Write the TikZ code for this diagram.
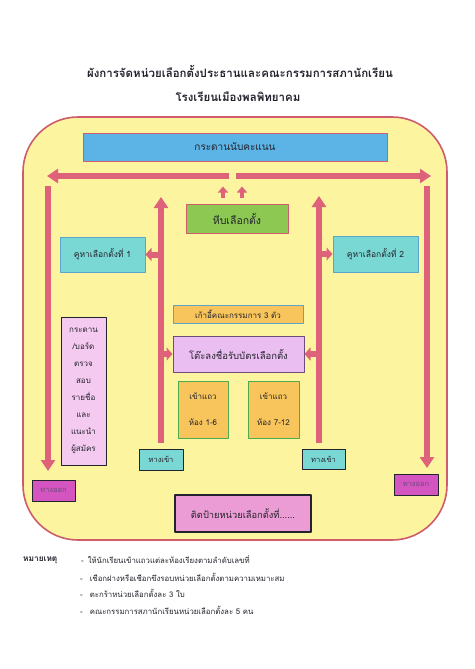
\documentclass[tikz,border=0pt]{standalone}
\usepackage{fontspec}
\newfontfamily\thai[Script=Thai]{Loma}
\usetikzlibrary{arrows.meta}
\definecolor{paper}{RGB}{253,244,160}
\definecolor{rim}{RGB}{205,92,108}
\definecolor{route}{RGB}{222,98,122}
\definecolor{skyblue}{RGB}{92,180,230}
\definecolor{ballotgreen}{RGB}{140,200,82}
\definecolor{booth}{RGB}{122,216,212}
\definecolor{boothrim}{RGB}{90,165,205}
\definecolor{chair}{RGB}{248,196,92}
\definecolor{lavender}{RGB}{234,190,240}
\definecolor{tablerim}{RGB}{110,75,125}
\definecolor{palepink}{RGB}{245,202,240}
\definecolor{magenta}{RGB}{212,84,192}
\definecolor{signpink}{RGB}{236,156,212}
\definecolor{queuerim}{RGB}{80,170,80}
\definecolor{ink}{RGB}{35,35,45}
\begin{document}
\begin{tikzpicture}[x=1pt,y=-1pt,line join=round,
  box/.style={draw,line width=1pt,inner sep=0pt,text=ink,align=center,
    font=\thai\fontsize{8.5}{10}\selectfont},
  way/.style={draw=route,line width=6pt,-{Triangle[width=14pt,length=11pt]}},
  nub/.style={draw=route,line width=4pt,-{Triangle[width=10pt,length=6pt]}},
  stub/.style={draw=route,line width=6pt,-{Triangle[width=13pt,length=6pt]}}]
\useasboundingbox (0,0) rectangle (474,669);
\fill[white] (0,0) rectangle (474,669);
% heading
\node[font=\thai\bfseries\fontsize{11.5}{14}\selectfont,text=ink] (head1) at (240,71) {ผังการจัดหน่วยเลือกตั้งประธานและคณะกรรมการสภานักเรียน};
\node[font=\thai\bfseries\fontsize{11.5}{14}\selectfont,text=ink] (head2) at (238,97) {โรงเรียนเมืองพลพิทยาคม};
% room
\draw[rim,fill=paper,line width=1.6pt,rounded corners=55pt] (23,117) rectangle (447,540);
% boxes
\node[box,draw=rim,fill=skyblue,minimum width=304pt,minimum height=28pt,
  font=\thai\fontsize{10}{12}\selectfont] (count) at (235,147) {กระดานนับคะแนน};
\node[box,draw=rim,fill=ballotgreen,minimum width=102pt,minimum height=29pt,
  font=\thai\fontsize{10.5}{12}\selectfont] (ballot) at (237,218.5) {หีบเลือกตั้ง};
\node[box,draw=boothrim,fill=booth,minimum width=85pt,minimum height=35pt] (booth1) at (102.5,254.5) {คูหาเลือกตั้งที่ 1};
\node[box,draw=boothrim,fill=booth,minimum width=85pt,minimum height=36pt] (booth2) at (375.5,254) {คูหาเลือกตั้งที่ 2};
\node[box,draw=ink,fill=palepink,minimum width=45pt,minimum height=148pt,
  font=\thai\fontsize{8}{17}\selectfont] (board) at (83.5,391)
  {กระดาน\\/บอร์ด\\ตรวจ\\สอบ\\รายชื่อ\\และ\\แนะนำ\\ผู้สมัคร};
\node[box,draw=boothrim,fill=chair,minimum width=130pt,minimum height=18pt,
  font=\thai\fontsize{8}{10}\selectfont] (chairs) at (238,314) {เก้าอี้คณะกรรมการ 3 ตัว};
\node[box,draw=tablerim,fill=lavender,minimum width=131pt,minimum height=36pt,
  font=\thai\fontsize{9.5}{11}\selectfont] (table) at (238.5,354) {โต๊ะลงชื่อรับบัตรเลือกตั้ง};
\node[box,draw=queuerim,fill=chair,minimum width=50pt,minimum height=57pt,
  font=\thai\fontsize{8}{26}\selectfont] (queue1) at (203,409.5) {เข้าแถว\\ห้อง 1-6};
\node[box,draw=queuerim,fill=chair,minimum width=51pt,minimum height=57pt,
  font=\thai\fontsize{8}{26}\selectfont] (queue2) at (273.5,409.5) {เข้าแถว\\ห้อง 7-12};
\node[box,draw=ink,fill=booth,minimum width=44pt,minimum height=21pt,
  font=\thai\fontsize{7.5}{9}\selectfont] (in1) at (161,459.5) {ทางเข้า};
\node[box,draw=ink,fill=booth,minimum width=43pt,minimum height=20pt,
  font=\thai\fontsize{7.5}{9}\selectfont] (in2) at (323.5,459) {ทางเข้า};
\node[box,draw=ink,fill=magenta,minimum width=43pt,minimum height=21pt,
  font=\thai\fontsize{7.5}{9}\selectfont,text=tablerim] (out1) at (53.5,490.5) {ทางออก};
\node[box,draw=ink,fill=magenta,minimum width=44pt,minimum height=21pt,
  font=\thai\fontsize{7.5}{9}\selectfont,text=tablerim] (out2) at (416,484.5) {ทางออก};
\node[box,draw=ink,fill=signpink,line width=1.6pt,minimum width=136pt,minimum height=37pt,
  font=\thai\fontsize{9.3}{11}\selectfont] (sign) at (243,513.5) {ติดป้ายหน่วยเลือกตั้งที่......};
% routes
\coordinate (lin) at (161,443);
\coordinate (rin) at (319,443);
\coordinate (lout) at (48,186);
\coordinate (rout) at (427,186);
\draw[stub] (lin |- booth1.east) -- (booth1.east);
\draw[stub] (rin |- booth2.west) -- (booth2.west);
\draw[stub] (lin |- table.west) -- (table.west);
\draw[stub] (rin |- table.east) -- (table.east);
\draw[way] (lin) -- (161,197);
\draw[way] (rin) -- (319,196);
\draw[way] (229,176) -- (47,176);
\draw[way] (236,176) -- (431,176);
\draw[way] (lout) -- (48,471);
\draw[way] (rout) -- (427,468);
\draw[nub] ([xshift=-14pt,yshift=6pt]ballot.north) -- ([xshift=-14pt,yshift=17pt]ballot.north);
\draw[nub] ([xshift=5pt,yshift=6pt]ballot.north) -- ([xshift=5pt,yshift=17pt]ballot.north);
% notes
\node[anchor=west,font=\thai\bfseries\fontsize{8.3}{10}\selectfont,text=ink,inner sep=0pt] (note) at (23,560) {หมายเหตุ};
\node[anchor=west,font=\thai\fontsize{7.8}{10}\selectfont,text=ink,inner sep=0pt] (item1) at (81,560) {-\hspace{4pt}ให้นักเรียนเข้าแถวแต่ละห้องเรียงตามลำดับเลขที่};
\node[anchor=west,font=\thai\fontsize{7.8}{10}\selectfont,text=ink,inner sep=0pt] (item2) at (80,577) {-\hspace{7pt}เชือกฝางหรือเชือกขึงรอบหน่วยเลือกตั้งตามความเหมาะสม};
\node[anchor=west,font=\thai\fontsize{7.8}{10}\selectfont,text=ink,inner sep=0pt] (item3) at (80,593.5) {-\hspace{7pt}ตะกร้าหน่วยเลือกตั้งละ 3 ใบ};
\node[anchor=west,font=\thai\fontsize{7.8}{10}\selectfont,text=ink,inner sep=0pt] (item4) at (80,610) {-\hspace{7pt}คณะกรรมการสภานักเรียนหน่วยเลือกตั้งละ 5 คน};
\end{tikzpicture}
\end{document}
